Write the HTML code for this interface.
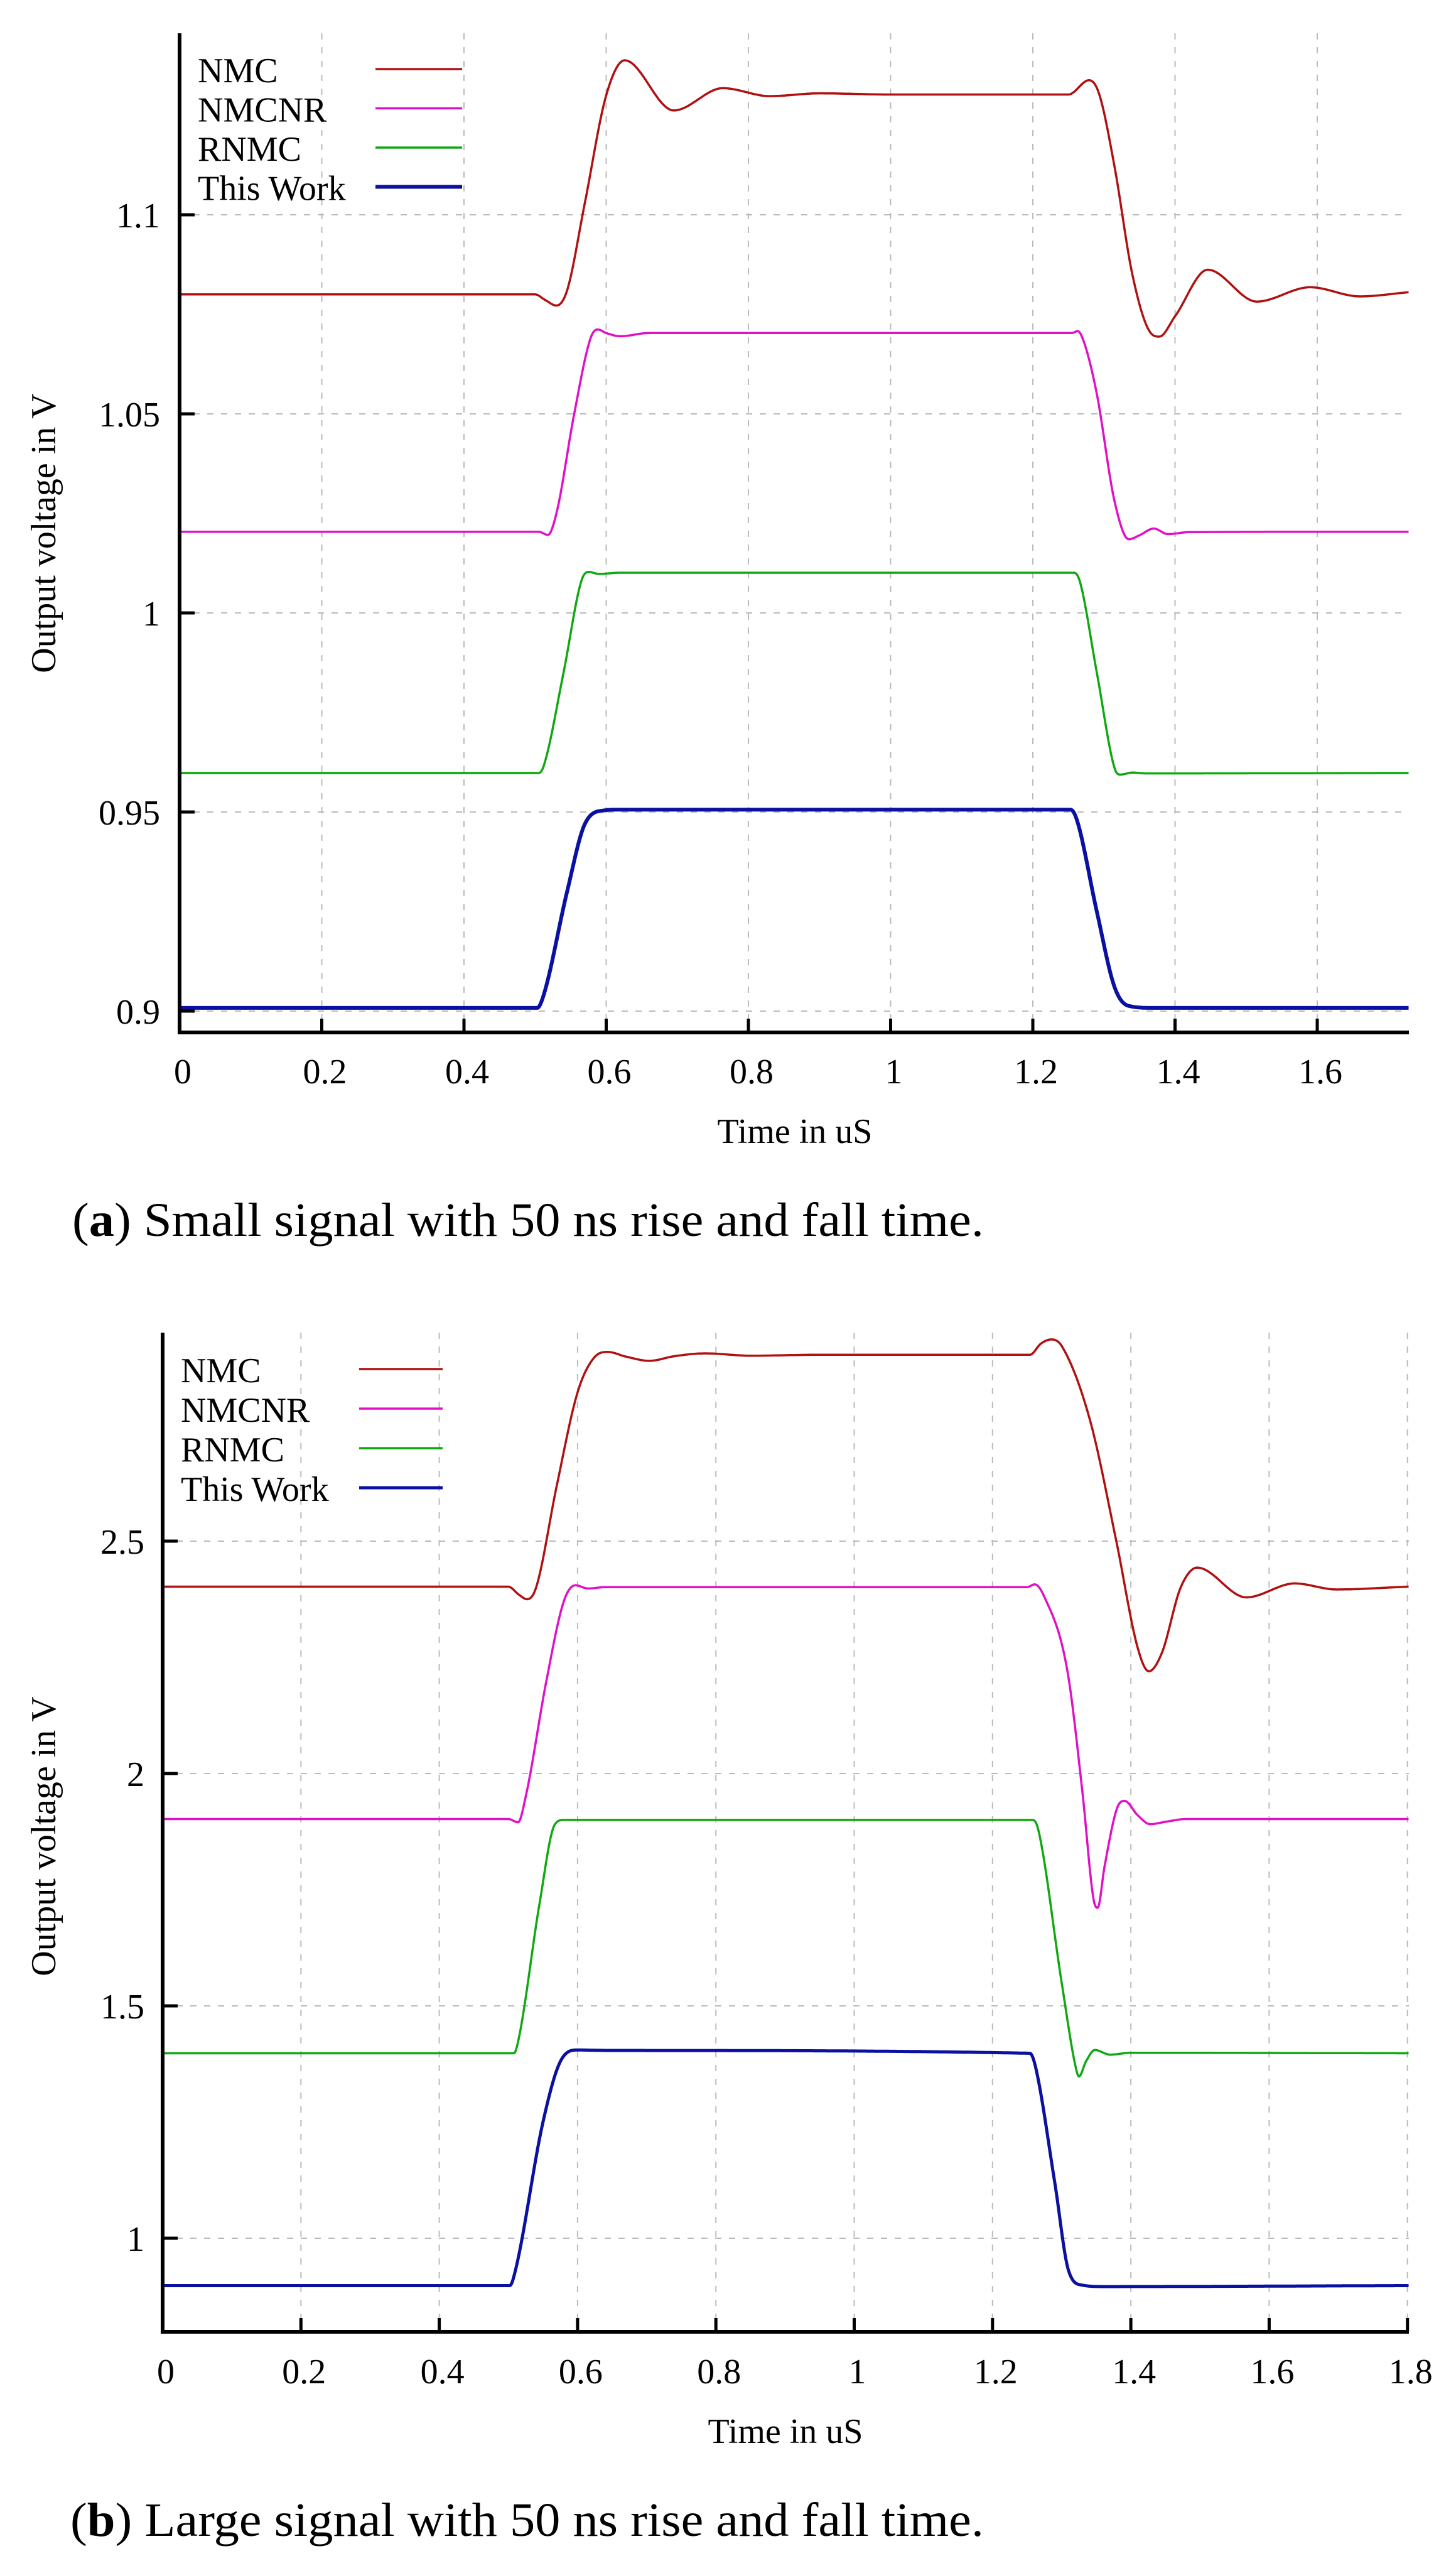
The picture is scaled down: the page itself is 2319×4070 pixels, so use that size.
<!DOCTYPE html>
<html><head><meta charset="utf-8"><style>
html,body{margin:0;padding:0;background:#fff;}
svg{display:block;}
text{font-family:"Liberation Serif",serif;fill:#000;}
</style></head><body>
<svg id="s" xmlns="http://www.w3.org/2000/svg" width="2319" height="4070" viewBox="0 0 2319 4070">
<rect width="2319" height="4070" fill="#fff"/>
<g id="ga"></g>
<g id="gb"></g>
<text x="115" y="1968" font-size="76" textLength="1452" lengthAdjust="spacingAndGlyphs">(<tspan font-weight="bold">a</tspan>) Small signal with 50 ns rise and fall time.</text>
<text x="112" y="4038" font-size="76" textLength="1455" lengthAdjust="spacingAndGlyphs">(<tspan font-weight="bold">b</tspan>) Large signal with 50 ns rise and fall time.</text>
</svg>
<script>
const NS="http://www.w3.org/2000/svg";
function el(p,tag,attrs,txt){const e=document.createElementNS(NS,tag);for(const k in attrs)e.setAttribute(k,attrs[k]);if(txt!==undefined)e.textContent=txt;p.appendChild(e);return e;}
function mono(pts){
  const n=pts.length,xs=pts.map(p=>p[0]),ys=pts.map(p=>p[1]);
  const d=[],m=new Array(n);
  for(let i=0;i<n-1;i++)d.push((ys[i+1]-ys[i])/(xs[i+1]-xs[i]));
  m[0]=d[0];m[n-1]=d[n-2];
  for(let i=1;i<n-1;i++){ if(d[i-1]*d[i]<=0)m[i]=0; else m[i]=(d[i-1]+d[i])/2; }
  for(let i=0;i<n-1;i++){ if(d[i]===0){m[i]=0;m[i+1]=0;continue;}
    const a=m[i]/d[i],b=m[i+1]/d[i],h=a*a+b*b; if(h>9){const t=3/Math.sqrt(h);m[i]=t*a*d[i];m[i+1]=t*b*d[i];}}
  return function(x){let i=0;while(i<n-2&&x>xs[i+1])i++;
    const h=xs[i+1]-xs[i],t=(x-xs[i])/h,t2=t*t,t3=t2*t;
    return (2*t3-3*t2+1)*ys[i]+(t3-2*t2+t)*h*m[i]+(-2*t3+3*t2)*ys[i+1]+(t3-t2)*h*m[i+1];};
}
function panel(g,cfg){
  const X=t=>cfg.x0+t/0.2*cfg.xs, Y=v=>cfg.y0-(v-cfg.v0)/cfg.vstep*cfg.ys;
  cfg.xt.forEach((t,i)=>{ if(i>0) el(g,"line",{x1:X(t),x2:X(t),y1:cfg.top,y2:cfg.bot,stroke:"#bbb","stroke-width":2,"stroke-dasharray":"10,12"}); });
  cfg.yt.forEach(v=>{ el(g,"line",{x1:cfg.x0,x2:cfg.right,y1:Y(v),y2:Y(v),stroke:"#bbb","stroke-width":2,"stroke-dasharray":"10,12"}); });
  cfg.series.forEach(s=>{
    const f=mono(s.p);let d="";
    for(let px=cfg.x0;px<=cfg.right;px+=1.5){const t=(px-cfg.x0)/cfg.xs*0.2;d+=(d?"L":"M")+px.toFixed(1)+","+Y(f(t)).toFixed(1);}
    el(g,"path",{d:d,fill:"none",stroke:s.c,"stroke-width":s.w,"stroke-linejoin":"round"});
  });
  el(g,"line",{x1:cfg.x0,x2:cfg.x0,y1:cfg.top,y2:cfg.bot+3,stroke:"#000","stroke-width":6});
  el(g,"line",{x1:cfg.x0-3,x2:cfg.right,y1:cfg.bot,y2:cfg.bot,stroke:"#000","stroke-width":6});
  cfg.xt.forEach((t,i)=>{ el(g,"line",{x1:X(t),x2:X(t),y1:cfg.bot,y2:cfg.bot-22,stroke:"#000","stroke-width":5});
    el(g,"text",{x:X(t)+5,y:cfg.xly,"font-size":56,"text-anchor":"middle"},cfg.xl[i]); });
  cfg.yt.forEach((v,i)=>{ el(g,"line",{x1:cfg.x0,x2:cfg.x0+24,y1:Y(v),y2:Y(v),stroke:"#000","stroke-width":5});
    el(g,"text",{x:cfg.ylx,y:Y(v)+20,"font-size":56,"text-anchor":"end"},cfg.yl[i]); });
  el(g,"text",{x:cfg.xtx,y:cfg.xty,"font-size":56,"text-anchor":"middle"},"Time in uS");
  el(g,"text",{x:0,y:0,"font-size":56,"text-anchor":"middle",transform:"translate(88,"+cfg.ytc+") rotate(-90)"},"Output voltage in V");
  cfg.series.forEach((s,i)=>{const ly=cfg.ly0+i*cfg.lds;
    el(g,"text",{x:cfg.lx,y:ly+21,"font-size":56},s.n);
    el(g,"line",{x1:cfg.l1,x2:cfg.l2,y1:ly,y2:ly,stroke:s.c,"stroke-width":s.w});});
}
const RED="#b01010",MAG="#e010c8",GRN="#10a810",BLU="#0a10a0";
panel(document.getElementById("ga"),{
  x0:286,xs:226.5,right:2244,top:53,bot:1644,y0:1610,v0:0.9,vstep:0.05,ys:317,
  xt:[0,0.2,0.4,0.6,0.8,1,1.2,1.4,1.6],xl:["0","0.2","0.4","0.6","0.8","1","1.2","1.4","1.6"],xly:1725,
  yt:[0.9,0.95,1,1.05,1.1],yl:["0.9","0.95","1","1.05","1.1"],ylx:255,
  xtx:1266,xty:1820,ytc:849,lx:315,ly0:110,lds:62.5,l1:598,l2:736,
  series:[
   {n:"NMC",c:RED,w:3.5,p:[[0,1.08],[0.5,1.08],[0.515,1.0785],[0.53,1.0772],[0.545,1.081],[0.57,1.103],[0.6,1.13],[0.626,1.1388],[0.695,1.1262],[0.764,1.1318],[0.83,1.1298],[0.9,1.1305],[1.0,1.1302],[1.25,1.1302],[1.279,1.1338],[1.293,1.1305],[1.315,1.112],[1.34,1.085],[1.365,1.0705],[1.378,1.0694],[1.4,1.0745],[1.446,1.0862],[1.515,1.0782],[1.59,1.0818],[1.66,1.0795],[1.726,1.0805]]},
   {n:"NMCNR",c:MAG,w:3.5,p:[[0,1.0204],[0.505,1.0204],[0.518,1.0196],[0.53,1.025],[0.555,1.05],[0.578,1.069],[0.588,1.0712],[0.6,1.0703],[0.62,1.0695],[0.66,1.0703],[1.0,1.0703],[1.255,1.0703],[1.263,1.0708],[1.272,1.068],[1.29,1.055],[1.315,1.028],[1.335,1.0185],[1.35,1.0195],[1.37,1.0212],[1.39,1.0198],[1.42,1.0203],[1.726,1.0204]]},
   {n:"RNMC",c:GRN,w:3.5,p:[[0,0.9598],[0.505,0.9598],[0.512,0.9615],[0.54,0.985],[0.565,1.008],[0.575,1.0103],[0.59,1.0098],[0.62,1.0101],[1.258,1.0101],[1.266,1.008],[1.29,0.985],[1.315,0.961],[1.323,0.9594],[1.34,0.9599],[1.36,0.9597],[1.726,0.9598]]},
   {n:"This Work",c:BLU,w:6,p:[[0,0.9008],[0.503,0.9008],[0.512,0.904],[0.545,0.93],[0.57,0.947],[0.597,0.9504],[0.62,0.9506],[1.253,0.9506],[1.262,0.948],[1.29,0.925],[1.315,0.906],[1.335,0.9013],[1.37,0.9008],[1.726,0.9008]]}
  ]});
panel(document.getElementById("gb"),{
  x0:259,xs:220.3,right:2244,top:2122,bot:3713,y0:3564,v0:1,vstep:0.5,ys:370,
  xt:[0,0.2,0.4,0.6,0.8,1,1.2,1.4,1.6,1.8],xl:["0","0.2","0.4","0.6","0.8","1","1.2","1.4","1.6","1.8"],xly:3795,
  yt:[1,1.5,2,2.5],yl:["1","1.5","2","2.5"],ylx:230,
  xtx:1251,xty:3890,ytc:2924,lx:288,ly0:2180,lds:63,l1:572,l2:705,
  series:[
   {n:"NMC",c:RED,w:3.5,p:[[0,2.402],[0.5,2.402],[0.515,2.385],[0.527,2.375],[0.54,2.40],[0.57,2.62],[0.6,2.82],[0.624,2.895],[0.644,2.907],[0.67,2.897],[0.704,2.888],[0.74,2.898],[0.785,2.904],[0.85,2.899],[0.95,2.901],[1.254,2.901],[1.27,2.925],[1.285,2.934],[1.3,2.92],[1.341,2.76],[1.379,2.50],[1.41,2.27],[1.426,2.22],[1.445,2.26],[1.472,2.40],[1.496,2.443],[1.567,2.379],[1.637,2.409],[1.697,2.396],[1.8,2.402]]},
   {n:"NMCNR",c:MAG,w:3.5,p:[[0,1.902],[0.5,1.902],[0.514,1.895],[0.525,1.95],[0.555,2.2],[0.58,2.37],[0.597,2.405],[0.615,2.398],[0.64,2.401],[1.25,2.401],[1.261,2.407],[1.275,2.38],[1.308,2.223],[1.33,1.96],[1.346,1.73],[1.352,1.711],[1.362,1.80],[1.38,1.925],[1.391,1.941],[1.41,1.91],[1.428,1.891],[1.45,1.896],[1.48,1.902],[1.8,1.902]]},
   {n:"RNMC",c:GRN,w:3.5,p:[[0,1.398],[0.508,1.398],[0.515,1.43],[0.545,1.72],[0.567,1.89],[0.58,1.9],[0.6,1.9],[1.258,1.9],[1.266,1.88],[1.3,1.55],[1.32,1.37],[1.325,1.348],[1.335,1.38],[1.348,1.405],[1.37,1.395],[1.4,1.399],[1.8,1.398]]},
   {n:"This Work",c:BLU,w:5,p:[[0,0.898],[0.502,0.898],[0.51,0.93],[0.55,1.25],[0.575,1.38],[0.6,1.405],[0.65,1.404],[1.254,1.398],[1.262,1.37],[1.29,1.12],[1.31,0.93],[1.33,0.899],[1.36,0.896],[1.8,0.898]]}
  ]});
</script>
</body></html>
